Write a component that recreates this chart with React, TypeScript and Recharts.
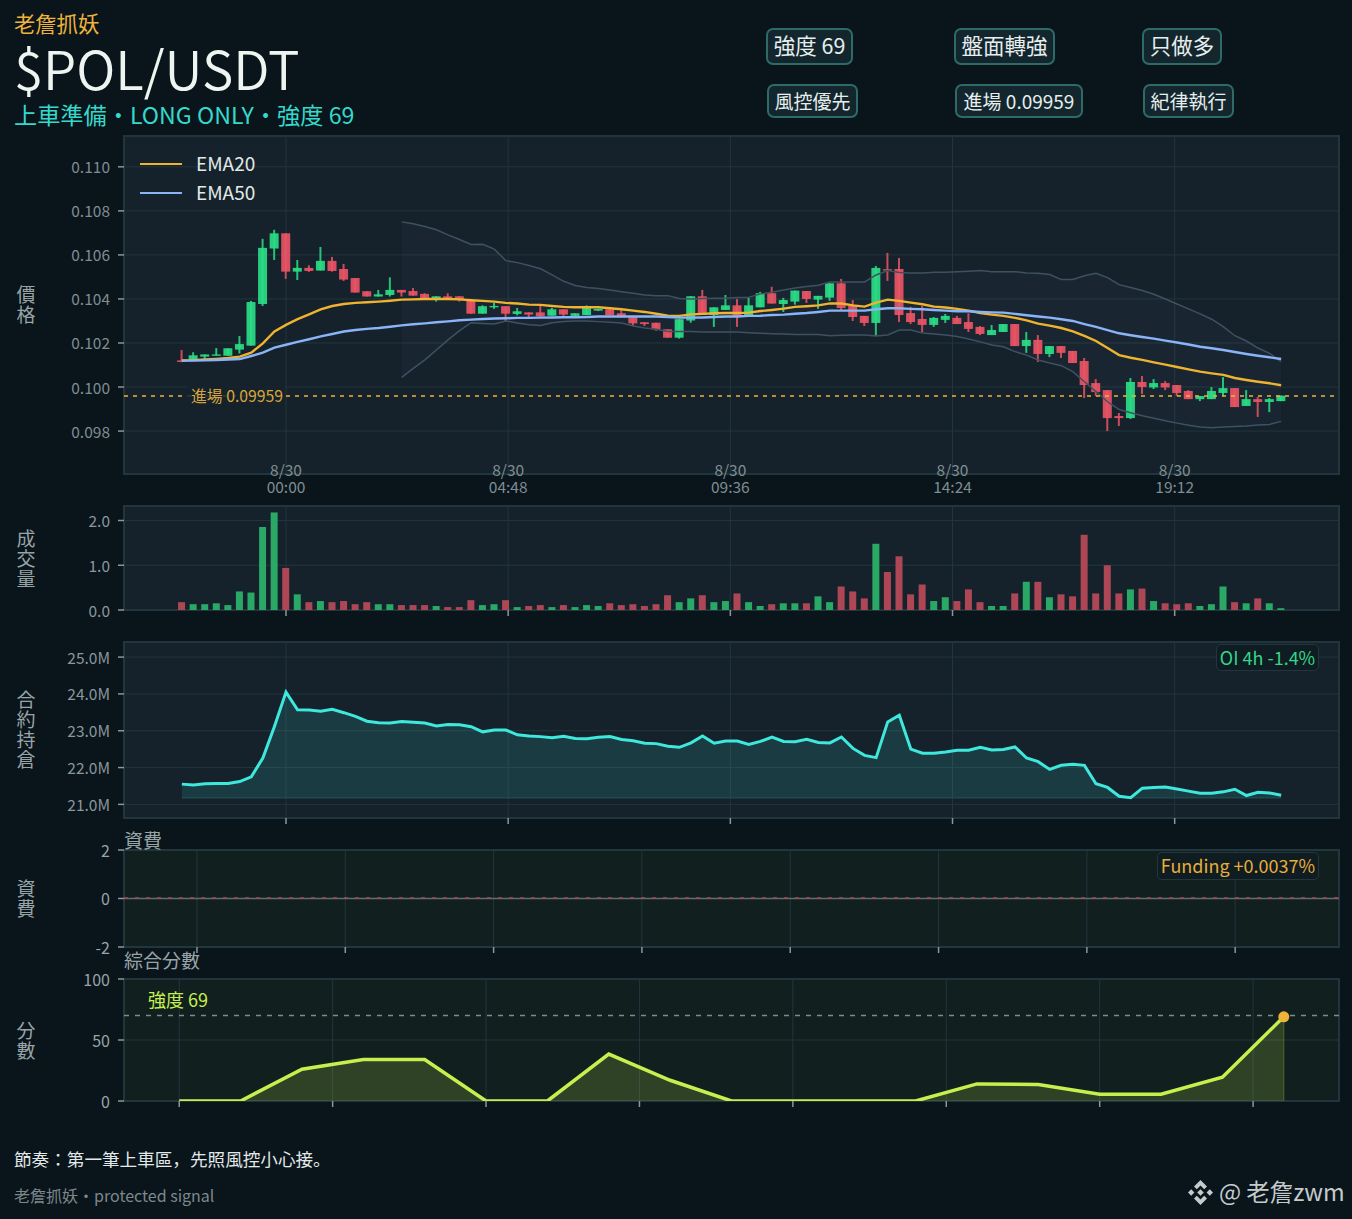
import React from 'react';
import {
  Area, Bar, CartesianGrid, Cell, ComposedChart, Line, ReferenceDot, ReferenceLine, XAxis, YAxis,
} from 'recharts';

const FONT = '"Noto Sans CJK JP", "Noto Sans", sans-serif';
const DOT_FONT = '"Noto Sans CJK TC", sans-serif';

const opens = [
  0.10121, 0.10123, 0.10138, 0.10142, 0.10142, 0.1017, 0.10188, 0.10377, 0.10629, 0.10698,
  0.10524, 0.10541, 0.10529, 0.10573, 0.10536, 0.10495, 0.10435, 0.10411, 0.10418, 0.10441,
  0.10436, 0.10423, 0.10397, 0.10412, 0.10412, 0.10392, 0.10333, 0.10362, 0.10367, 0.10332,
  0.10339, 0.10339, 0.10324, 0.10353, 0.10323, 0.10327, 0.10347, 0.10353, 0.10335, 0.10317,
  0.10294, 0.10292, 0.10262, 0.10224, 0.10302, 0.10412, 0.10327, 0.1035, 0.10371, 0.10327,
  0.10362, 0.10426, 0.10377, 0.10388, 0.10436, 0.10397, 0.10406, 0.10471, 0.1037, 0.10323,
  0.10291, 0.10535, 0.10536, 0.10336, 0.10309, 0.10282, 0.10305, 0.10314, 0.10295, 0.10273,
  0.10236, 0.1025, 0.10286, 0.10186, 0.10214, 0.1015, 0.10186, 0.10164, 0.10118, 0.10018,
  0.09986, 0.09868, 0.09859, 0.10023, 0.09998, 0.10018, 0.10009, 0.09982, 0.09945, 0.09945,
  0.09973, 0.09995, 0.09914, 0.09945, 0.09932, 0.09936,
];
const closes = [
  0.10114, 0.10144, 0.10148, 0.10148, 0.10176, 0.10195, 0.10386, 0.10632, 0.10698, 0.10524,
  0.10541, 0.10527, 0.10573, 0.10527, 0.10488, 0.10429, 0.10411, 0.10421, 0.10441, 0.10429,
  0.10415, 0.10402, 0.10412, 0.104, 0.10395, 0.10333, 0.10367, 0.10368, 0.10333, 0.10344,
  0.10329, 0.10321, 0.10353, 0.10329, 0.10335, 0.10361, 0.10355, 0.10326, 0.10317, 0.10289,
  0.10286, 0.10262, 0.10224, 0.10308, 0.10412, 0.10327, 0.10362, 0.10371, 0.10323, 0.10371,
  0.10426, 0.10379, 0.10395, 0.10438, 0.104, 0.10414, 0.10471, 0.10359, 0.10318, 0.10291,
  0.10541, 0.10529, 0.10327, 0.10295, 0.10282, 0.10314, 0.10323, 0.10286, 0.10264, 0.10241,
  0.10259, 0.10286, 0.10186, 0.10214, 0.1015, 0.10186, 0.10155, 0.10109, 0.10009, 0.09977,
  0.09859, 0.09859, 0.10023, 0.1, 0.10018, 0.09998, 0.09973, 0.09945, 0.09959, 0.09982,
  0.09995, 0.09909, 0.09945, 0.09932, 0.09945, 0.09961,
];
const highs = [
  0.10168, 0.10158, 0.10148, 0.10177, 0.10176, 0.10232, 0.10391, 0.10673, 0.10714, 0.10698,
  0.10577, 0.10553, 0.10636, 0.10591, 0.10559, 0.10495, 0.10435, 0.10441, 0.10498, 0.10441,
  0.1045, 0.10426, 0.10412, 0.10426, 0.10412, 0.10392, 0.10371, 0.10382, 0.10367, 0.10359,
  0.10339, 0.10373, 0.10359, 0.10353, 0.10335, 0.10371, 0.10355, 0.10361, 0.1035, 0.10317,
  0.10294, 0.10292, 0.10262, 0.10308, 0.10412, 0.10441, 0.10362, 0.10418, 0.104, 0.10405,
  0.10432, 0.10455, 0.10405, 0.10438, 0.10436, 0.10414, 0.10471, 0.10491, 0.10395, 0.10323,
  0.1055, 0.10609, 0.10586, 0.10364, 0.10368, 0.10318, 0.10332, 0.10323, 0.10335, 0.10277,
  0.10282, 0.10286, 0.10286, 0.1025, 0.10236, 0.10186, 0.10186, 0.10164, 0.10132, 0.10036,
  0.09986, 0.09882, 0.10041, 0.1005, 0.10036, 0.10027, 0.10009, 0.09986, 0.09959, 0.1,
  0.10045, 0.09995, 0.09986, 0.09955, 0.0995, 0.09961,
];
const lows = [
  0.10113, 0.10123, 0.10127, 0.10142, 0.10142, 0.10152, 0.10188, 0.10368, 0.10577, 0.10491,
  0.10486, 0.10523, 0.10529, 0.10524, 0.10482, 0.10429, 0.10411, 0.10411, 0.10411, 0.10411,
  0.10415, 0.10402, 0.10388, 0.104, 0.10388, 0.10333, 0.10333, 0.10355, 0.10297, 0.10326,
  0.10317, 0.10318, 0.10324, 0.10323, 0.10323, 0.10327, 0.10345, 0.10326, 0.10317, 0.10277,
  0.10277, 0.10256, 0.10224, 0.1022, 0.10292, 0.10327, 0.10273, 0.1035, 0.10273, 0.10327,
  0.10362, 0.10379, 0.10341, 0.10374, 0.10382, 0.10355, 0.10391, 0.1035, 0.103, 0.10277,
  0.10232, 0.10482, 0.10295, 0.10286, 0.1025, 0.10273, 0.10291, 0.10286, 0.1025, 0.10236,
  0.10236, 0.1025, 0.10186, 0.10155, 0.10114, 0.10136, 0.10132, 0.10109, 0.0995, 0.09959,
  0.098, 0.09823, 0.09855, 0.09968, 0.09991, 0.09986, 0.09959, 0.09945, 0.09936, 0.09945,
  0.09959, 0.09909, 0.09914, 0.09864, 0.09886, 0.09936,
];
const ema20 = [
  0.10121, 0.10122, 0.10125, 0.10128, 0.10132, 0.10138, 0.10156, 0.10198, 0.10252, 0.10282,
  0.10308, 0.1033, 0.10353, 0.10368, 0.10377, 0.10382, 0.10385, 0.10388, 0.10392, 0.10397,
  0.10398, 0.104, 0.104, 0.104, 0.10398, 0.10394, 0.10391, 0.10388, 0.10382, 0.10379,
  0.10374, 0.10373, 0.10368, 0.10364, 0.10362, 0.10362, 0.10362, 0.10358, 0.10353, 0.10347,
  0.10341, 0.10333, 0.10324, 0.10323, 0.1033, 0.10332, 0.10335, 0.10336, 0.10336, 0.10338,
  0.10345, 0.1035, 0.10356, 0.10364, 0.10367, 0.10371, 0.1038, 0.10379, 0.10371, 0.10365,
  0.10383, 0.10397, 0.10391, 0.10383, 0.10376, 0.10365, 0.10361, 0.10355, 0.10347, 0.10336,
  0.10329, 0.10323, 0.10314, 0.10303, 0.10288, 0.10279, 0.10268, 0.10253, 0.10232, 0.10209,
  0.10177, 0.10145, 0.10133, 0.10123, 0.10112, 0.10102, 0.10091, 0.1008, 0.1007, 0.10062,
  0.10055, 0.10041, 0.10032, 0.10024, 0.10017, 0.10008,
];
const ema50 = [
  0.1012, 0.1012, 0.10121, 0.10123, 0.10125, 0.10127, 0.10141, 0.10156, 0.10179, 0.10192,
  0.10205, 0.10217, 0.1023, 0.10241, 0.10252, 0.10259, 0.10264, 0.10268, 0.10274, 0.1028,
  0.10285, 0.10289, 0.10294, 0.10298, 0.10303, 0.10306, 0.10309, 0.10311, 0.10312, 0.10314,
  0.10314, 0.10315, 0.10316, 0.10317, 0.10317, 0.10318, 0.1032, 0.1032, 0.1032, 0.1032,
  0.1032, 0.1032, 0.10318, 0.10315, 0.10315, 0.10316, 0.10318, 0.1032, 0.1032, 0.10323,
  0.10324, 0.10327, 0.10329, 0.10333, 0.10336, 0.10341, 0.10347, 0.10347, 0.10347, 0.10347,
  0.10353, 0.10358, 0.10358, 0.10355, 0.10353, 0.1035, 0.10347, 0.10344, 0.10344, 0.10341,
  0.10339, 0.10338, 0.10332, 0.10326, 0.1032, 0.10315, 0.10308, 0.103, 0.10286, 0.10273,
  0.10258, 0.10244, 0.10235, 0.10227, 0.1022, 0.10211, 0.10202, 0.10193, 0.10183, 0.10176,
  0.10168, 0.10159, 0.1015, 0.10142, 0.10135, 0.10127,
];
const bollUpper = [
  null, null, null, null, null, null, null, null, null, null,
  null, null, null, null, null, null, null, null, null, 0.1075,
  0.10741, 0.10729, 0.10714, 0.10691, 0.1067, 0.10647, 0.10648, 0.10626, 0.10574, 0.10565,
  0.10552, 0.10537, 0.10509, 0.1048, 0.10461, 0.10452, 0.10447, 0.10441, 0.10433, 0.10426,
  0.10418, 0.10415, 0.10415, 0.10402, 0.104, 0.10402, 0.10403, 0.10403, 0.10406, 0.10408,
  0.10423, 0.1043, 0.10441, 0.1045, 0.10456, 0.10462, 0.10477, 0.10477, 0.10477, 0.10477,
  0.10509, 0.10529, 0.1052, 0.10518, 0.10518, 0.10521, 0.10521, 0.10523, 0.10526, 0.10529,
  0.10524, 0.10523, 0.10524, 0.10518, 0.10517, 0.10511, 0.10488, 0.10488, 0.10505, 0.10517,
  0.10497, 0.10465, 0.10452, 0.10438, 0.10421, 0.104, 0.10377, 0.10355, 0.10332, 0.10308,
  0.10274, 0.10233, 0.10209, 0.10177, 0.10153, 0.10115,
];
const bollLower = [
  null, null, null, null, null, null, null, null, null, null,
  null, null, null, null, null, null, null, null, null, 0.10044,
  0.10085, 0.10123, 0.10168, 0.10214, 0.10256, 0.10292, 0.10289, 0.10286, 0.103, 0.10291,
  0.10283, 0.10279, 0.10292, 0.10298, 0.103, 0.103, 0.10297, 0.10294, 0.10291, 0.10277,
  0.10268, 0.10262, 0.10252, 0.10252, 0.10252, 0.1025, 0.1025, 0.1025, 0.1025, 0.10247,
  0.10244, 0.10242, 0.10241, 0.10239, 0.10239, 0.10238, 0.10233, 0.10235, 0.10236, 0.10236,
  0.10232, 0.10236, 0.10259, 0.10259, 0.10245, 0.10241, 0.10236, 0.10229, 0.10218, 0.10205,
  0.10191, 0.10183, 0.10161, 0.10145, 0.10123, 0.10109, 0.10097, 0.1007, 0.10024, 0.09979,
  0.09933, 0.09898, 0.09883, 0.0987, 0.09858, 0.09847, 0.09836, 0.09826, 0.09818, 0.09815,
  0.09818, 0.09821, 0.09823, 0.09827, 0.0983, 0.09844,
];
const volumes = [
  0.175, 0.13, 0.13, 0.15, 0.11, 0.415, 0.39, 1.855, 2.18, 0.94,
  0.35, 0.175, 0.2, 0.175, 0.2, 0.13, 0.175, 0.13, 0.13, 0.11,
  0.11, 0.11, 0.09, 0.065, 0.065, 0.22, 0.11, 0.13, 0.22, 0.065,
  0.09, 0.11, 0.065, 0.11, 0.065, 0.11, 0.09, 0.15, 0.11, 0.13,
  0.09, 0.13, 0.33, 0.175, 0.26, 0.33, 0.175, 0.2, 0.37, 0.175,
  0.09, 0.13, 0.15, 0.15, 0.15, 0.305, 0.175, 0.525, 0.415, 0.26,
  1.48, 0.85, 1.2, 0.35, 0.57, 0.2, 0.285, 0.2, 0.46, 0.175,
  0.09, 0.09, 0.37, 0.63, 0.63, 0.285, 0.35, 0.305, 1.68, 0.37,
  1.0, 0.37, 0.46, 0.48, 0.2, 0.15, 0.13, 0.15, 0.09, 0.13,
  0.525, 0.175, 0.15, 0.26, 0.15, 0.04,
];
const openInterest = [
  21.55, 21.525, 21.56, 21.57, 21.57, 21.62, 21.75, 22.26, 23.115, 24.05,
  23.57, 23.56, 23.53, 23.58, 23.49, 23.39, 23.26, 23.22, 23.21, 23.25,
  23.23, 23.21, 23.13, 23.17, 23.16, 23.11, 22.97, 23.02, 23.02, 22.89,
  22.86, 22.84, 22.81, 22.85, 22.79, 22.78, 22.82, 22.84, 22.76, 22.73,
  22.66, 22.65, 22.58, 22.55, 22.67, 22.86, 22.66, 22.72, 22.72, 22.63,
  22.71, 22.83, 22.71, 22.7, 22.77, 22.68, 22.67, 22.83, 22.52, 22.33,
  22.27, 23.24, 23.42, 22.5, 22.39, 22.39, 22.42, 22.47, 22.47, 22.55,
  22.48, 22.49, 22.56, 22.26, 22.16, 21.95, 22.06, 22.09, 22.06, 21.56,
  21.46, 21.22, 21.18, 21.44, 21.46, 21.47, 21.42, 21.36, 21.3, 21.3,
  21.34, 21.41, 21.24, 21.33, 21.31, 21.25,
];
const scores = [0, 0, 26, 34, 34, 0, 0, 38.5, 17, 0, 0, 0, 0, 14, 13.5, 5.5, 5.5, 19.5, 69];
const fundingHours = [-0.492, 0, 1, 2, 3, 4, 5, 6, 7, 7.7];
const fundingRates = [0.02, 0.02, 0.02, 0.02, 0.02, 0.02, 0.02, 0.02, 0.02, 0.02];

const timeTicks = [9, 28.2, 47.4, 66.6, 85.8];
const dateLabels = ['8/30', '8/30', '8/30', '8/30', '8/30'];
const timeLabels = ['00:00', '04:48', '09:36', '14:24', '19:12'];
const priceTicks = [0.098, 0.1, 0.102, 0.104, 0.106, 0.108, 0.11];
const volumeTicks = [0, 1, 2];
const oiTicks = [21, 22, 23, 24, 25];
const fundingYTicks = [-2, 0, 2];
const fundingXTicks = [0, 1, 2, 3, 4, 5, 6, 7];
const scoreYTicks = [0, 50, 100];
const scoreXTicks = [0, 2.5, 5, 7.5, 10, 12.5, 15, 17.5];
const ENTRY = 0.09959;
const STRENGTH_LINE = 70;
const STRENGTH = 69;

const candleData = opens.map((open, i) => ({
  i,
  open,
  close: closes[i],
  high: highs[i],
  low: lows[i],
  ema20: ema20[i],
  ema50: ema50[i],
  upper: bollUpper[i],
  lower: bollLower[i],
  band: bollUpper[i] == null ? null : [bollLower[i], bollUpper[i]],
  volume: volumes[i],
  oi: openInterest[i],
}));
const scoreData = scores.map((score, i) => ({ i, score }));
const fundingData = fundingHours.map((x, i) => ({ x, rate: fundingRates[i] }));

const GRID = '#22353d';
const TICK = '#8a979b';
const UP = '#2bdc85';
const DOWN = '#e95565';

// wick and body come from the same bar rect, scaled by the high-low range
const Candle = (props: any) => {
  const { x, y, width, height, payload } = props;
  const top = Math.min(y, y + height);
  const h = Math.abs(height);
  const pxPerPrice = h / (payload.high - payload.low);
  const up = payload.close >= payload.open;
  const bodyTop = top + (payload.high - Math.max(payload.open, payload.close)) * pxPerPrice;
  const bodyH = Math.max(Math.abs(payload.close - payload.open) * pxPerPrice, 1);
  const color = up ? UP : DOWN;
  return (
    <g>
      <rect x={x + width / 2 - 1} y={top} width={2} height={h} fill={up ? '#27c177' : '#c94c5b'} />
      <rect x={x} y={bodyTop} width={width} height={bodyH} fill={color} fillOpacity={0.92} />
    </g>
  );
};

const PriceTick = (props: any) => {
  const { x, y, payload } = props;
  const idx = timeTicks.indexOf(payload.value);
  return (
    <g fontFamily={FONT} fontSize={15.5} fill="#7f8e92" textAnchor="middle">
      <text x={x} y={y - 6}>{dateLabels[idx]}</text>
      <text x={x} y={y + 11}>{timeLabels[idx]}</text>
    </g>
  );
};

const EntryLabel = (props: any) => {
  const { viewBox } = props;
  return (
    <g>
      <rect x={viewBox.x + 63} y={viewBox.y - 10} width={98} height={20} fill="#15222b" fillOpacity={0.85} />
      <text x={viewBox.x + 67} y={viewBox.y + 6} fill="#d8a53c" fontSize={15.8} fontFamily={FONT}>
        進場 0.09959
      </text>
    </g>
  );
};

const panelBox = (top: number, height: number, background: string): React.CSSProperties => ({
  position: 'absolute',
  left: 123,
  top: top - 1,
  width: 1217,
  height: height + 2,
  boxSizing: 'border-box',
  border: '2px solid #22373d',
  background,
});

const Panel = ({ top, height, bg, children }: any) => (
  <>
    <div style={panelBox(top, height, bg)} />
    <div style={{ position: 'absolute', left: 0, top: top - 14 }}>{children}</div>
  </>
);

const chartProps = (height: number) => ({
  width: 1352,
  height: height + 54,
  margin: { top: 14, right: 13, bottom: 10, left: 64 },
});

const yAxisProps = (fill: string, fontSize = 15.5) => ({
  width: 60,
  axisLine: false,
  tickSize: 6,
  tickMargin: 8,
  tickLine: { stroke: TICK, strokeWidth: 1.5 },
  tick: { fill, fontSize, fontFamily: FONT, dy: 1 },
  interval: 0 as const,
});

const EmptyTick = () => <g />;

const xAxisProps = {
  type: 'number' as const,
  height: 30,
  axisLine: false,
  tickSize: 6,
  tickLine: { stroke: TICK, strokeWidth: 1.5 },
  tick: <EmptyTick />,
  interval: 0 as const,
};

const SideTitle = ({ text, top }: { text: string; top: number }) => (
  <div style={{
    position: 'absolute', left: 16, top, width: 20, fontSize: 19, lineHeight: '20px', color: '#98a4a7', textAlign: 'center',
  }}>
    {text.split('').map((c, i) => <div key={i}>{c}</div>)}
  </div>
);

const chipRow = [
  { text: '強度 69', left: 766, top: 28, width: 87, height: 37, size: 21.5, lift: 7 },
  { text: '盤面轉強', left: 954, top: 28, width: 101, height: 37, size: 21.5, lift: 7 },
  { text: '只做多', left: 1142, top: 28, width: 80, height: 37, size: 21.5, lift: 7 },
  { text: '風控優先', left: 767, top: 84, width: 91, height: 34, size: 19, lift: 5 },
  { text: '進場 0.09959', left: 955, top: 84, width: 128, height: 34, size: 19, lift: 5 },
  { text: '紀律執行', left: 1143, top: 84, width: 91, height: 34, size: 19, lift: 5 },
];

const Chip = ({ text, left, top, width, height, size, lift }: any) => (
  <div style={{
    position: 'absolute', left, top, width, height, boxSizing: 'border-box', border: '2px solid #2d6a68', borderRadius: 7,
    background: '#14262d', color: '#e6eeee', fontSize: size, lineHeight: `${height - lift}px`, textAlign: 'center', whiteSpace: 'nowrap',
  }}>
    {text}
  </div>
);

const Badge = ({ text, left, top, width, height, color }: any) => (
  <div style={{
    position: 'absolute', left, top, width, height, boxSizing: 'border-box', border: '1.5px solid #22373d', borderRadius: 5,
    background: '#0f1c22', color, fontSize: 18, lineHeight: `${height - 3}px`, textAlign: 'center', whiteSpace: 'nowrap',
  }}>
    {text}
  </div>
);

const LegendRow = ({ color, label, top }: any) => (
  <>
    <div style={{ position: 'absolute', left: 140, top, width: 42, height: 2, background: color }} />
    <div style={{ position: 'absolute', left: 196, top: top - 14, fontSize: 19, lineHeight: '28px', color: '#e2e9e8' }}>{label}</div>
  </>
);

const Dot = () => <span style={{ fontFamily: DOT_FONT }}>·</span>;

export default function App() {
  return (
    <div style={{
      position: 'absolute', left: 0, top: 0, width: 1352, height: 1219, overflow: 'hidden', background: '#09141b', fontFamily: FONT,
    }}>
      <div style={{ position: 'absolute', left: 14, top: 10, fontSize: 21.3, lineHeight: '26px', color: '#eeb33b' }}>老詹抓妖</div>
      <div style={{ position: 'absolute', left: 14, top: 38, fontSize: 53, lineHeight: '58px', color: '#eef5f1', fontWeight: 350 }}>$POL/USDT</div>
      <div style={{ position: 'absolute', left: 14, top: 100, fontSize: 23.2, lineHeight: '28px', color: '#35d9cc', whiteSpace: 'nowrap' }}>
        上車準備<Dot />LONG ONLY<Dot />強度 69
      </div>
      {chipRow.map((c) => <Chip key={c.text} {...c} />)}

      <SideTitle text="價格" top={284} />
      <SideTitle text="成交量" top={528} />
      <SideTitle text="合約持倉" top={689} />
      <SideTitle text="資費" top={878} />
      <SideTitle text="分數" top={1020} />

      {/* price */}
      <Panel top={136} height={338} bg="#15222b">
        <ComposedChart data={candleData} {...chartProps(338)}>
          <CartesianGrid stroke={GRID} />
          <XAxis dataKey="i" {...xAxisProps} domain={[-5, 100]} ticks={timeTicks} tickLine={false} tick={<PriceTick />} />
          <YAxis
            {...yAxisProps('#7f8e92')}
            domain={[0.09605, 0.1114]}
            ticks={priceTicks}
            tickFormatter={(v: number) => v.toFixed(3)}
          />
          <Area dataKey="band" stroke="none" fill="#8ab4f8" fillOpacity={0.035} isAnimationActive={false} />
          <Bar dataKey={(d: any) => [d.low, d.high]} barSize={9} shape={<Candle />} isAnimationActive={false} />
          <Line dataKey="upper" stroke="#3f5161" strokeWidth={1.5} dot={false} isAnimationActive={false} />
          <Line dataKey="lower" stroke="#3f5161" strokeWidth={1.5} dot={false} isAnimationActive={false} />
          <Line dataKey="ema20" stroke="#eeb32f" strokeWidth={2.4} dot={false} isAnimationActive={false} />
          <Line dataKey="ema50" stroke="#8ab4f8" strokeWidth={2.4} dot={false} isAnimationActive={false} />
          <ReferenceLine y={ENTRY} stroke="#eeb33b" strokeWidth={1.5} strokeDasharray="4 5" label={<EntryLabel />} />
        </ComposedChart>
      </Panel>
      <LegendRow color="#eeb32f" label="EMA20" top={163} />
      <LegendRow color="#8ab4f8" label="EMA50" top={192} />

      {/* volume */}
      <Panel top={506} height={104} bg="#15222b">
        <ComposedChart data={candleData} {...chartProps(104)}>
          <CartesianGrid stroke={GRID} />
          <XAxis dataKey="i" {...xAxisProps} domain={[-5, 100]} ticks={timeTicks} />
          <YAxis {...yAxisProps('#8a979b')} domain={[0, 2.324]} ticks={volumeTicks} tickFormatter={(v: number) => v.toFixed(1)} />
          <Bar dataKey="volume" barSize={7} isAnimationActive={false}>
            {candleData.map((d) => (
              <Cell key={d.i} fill={d.close >= d.open ? '#2aa866' : '#ad4756'} />
            ))}
          </Bar>
        </ComposedChart>
      </Panel>

      {/* open interest */}
      <Panel top={642} height={176} bg="#15222b">
        <ComposedChart data={candleData} {...chartProps(176)}>
          <CartesianGrid stroke={GRID} />
          <XAxis dataKey="i" {...xAxisProps} domain={[-5, 100]} ticks={timeTicks} />
          <YAxis {...yAxisProps('#8a979b')} domain={[20.63, 25.41]} ticks={oiTicks} tickFormatter={(v: number) => `${v.toFixed(1)}M`} />
          <Area dataKey="oi" baseValue={21.18} stroke="none" fill="#3ee8dc" fillOpacity={0.13} isAnimationActive={false} />
          <ReferenceLine segment={[{ x: 0, y: 21.18 }, { x: 95, y: 21.18 }]} stroke="#1f4a4e" strokeWidth={1.5} />
          <Line dataKey="oi" stroke="#3ee8dc" strokeWidth={3} dot={false} isAnimationActive={false} />
        </ComposedChart>
      </Panel>
      <Badge text="OI 4h -1.4%" left={1216} top={644} width={103} height={27} color="#33d68a" />

      {/* funding */}
      <Panel top={850} height={97} bg="#11201f">
        <ComposedChart data={fundingData} {...chartProps(97)}>
          <CartesianGrid stroke={GRID} horizontal={false} />
          <XAxis dataKey="x" {...xAxisProps} domain={[-0.492, 7.7]} ticks={fundingXTicks} />
          <YAxis {...yAxisProps('#98a4a7', 16)} domain={[-2, 2]} ticks={fundingYTicks} />
          <ReferenceLine y={0} stroke="#5f6f6f" strokeWidth={1.5} />
          <Line dataKey="rate" stroke="#a84a55" strokeWidth={1.5} strokeDasharray="4 7" dot={false} isAnimationActive={false} />
        </ComposedChart>
      </Panel>
      <div style={{ position: 'absolute', left: 124, top: 827, fontSize: 19, lineHeight: '26px', color: '#98a4a7' }}>資費</div>
      <Badge text="Funding +0.0037%" left={1157} top={852} width={162} height={28} color="#e8ad3a" />

      {/* score */}
      <Panel top={979} height={122} bg="#11201f">
        <ComposedChart data={scoreData} {...chartProps(122)}>
          <CartesianGrid stroke={GRID} />
          <XAxis dataKey="i" {...xAxisProps} domain={[-0.9, 18.9]} ticks={scoreXTicks} />
          <YAxis {...yAxisProps('#98a4a7', 16)} domain={[0, 100]} ticks={scoreYTicks} allowDataOverflow />
          <ReferenceLine y={STRENGTH_LINE} stroke="#7e8d86" strokeWidth={1.5} strokeDasharray="5 6" />
          <Area dataKey="score" baseValue={0} stroke="none" fill="#c6f04d" fillOpacity={0.165} isAnimationActive={false} />
          <ReferenceLine segment={[{ x: 18, y: 0 }, { x: 18, y: STRENGTH }]} stroke="#4f6b2a" strokeWidth={1} />
          <Line dataKey="score" stroke="#c6f04d" strokeWidth={3.5} dot={false} isAnimationActive={false} />
          <ReferenceDot x={18} y={STRENGTH} r={5.5} fill="#eeb33b" stroke="none" />
        </ComposedChart>
      </Panel>
      <div style={{ position: 'absolute', left: 124, top: 947, fontSize: 19, lineHeight: '26px', color: '#98a4a7' }}>綜合分數</div>
      <div style={{ position: 'absolute', left: 148, top: 986, fontSize: 18, lineHeight: '26px', color: '#c6f04d' }}>強度 69</div>

      <div style={{ position: 'absolute', left: 14, top: 1146, fontSize: 17.6, lineHeight: '26px', color: '#e3e9e8', whiteSpace: 'nowrap' }}>
        節奏：第一筆上車區，先照風控小心接。
      </div>
      <div style={{ position: 'absolute', left: 14, top: 1183, fontSize: 16, lineHeight: '24px', color: '#7d888c', whiteSpace: 'nowrap' }}>
        老詹抓妖<Dot />protected signal
      </div>
      <svg style={{ position: 'absolute', left: 1187, top: 1179 }} width={27} height={27} viewBox="0 0 27 27" fill="#c4cbcb">
        <path d="M13.5 1 L20 7.5 L17.2 10.3 L13.5 6.6 L9.8 10.3 L7 7.5 Z" />
        <path d="M13.5 26 L20 19.5 L17.2 16.7 L13.5 20.4 L9.8 16.7 L7 19.5 Z" />
        <path d="M1 13.5 L4.2 10.3 L7.4 13.5 L4.2 16.7 Z" />
        <path d="M26 13.5 L22.8 10.3 L19.6 13.5 L22.8 16.7 Z" />
        <path d="M13.5 10.2 L16.8 13.5 L13.5 16.8 L10.2 13.5 Z" />
      </svg>
      <div style={{ position: 'absolute', left: 1219, top: 1174, fontSize: 23.4, lineHeight: '34px', color: '#c4cbcb', whiteSpace: 'nowrap' }}>
        @ 老詹zwm
      </div>
    </div>
  );
}
